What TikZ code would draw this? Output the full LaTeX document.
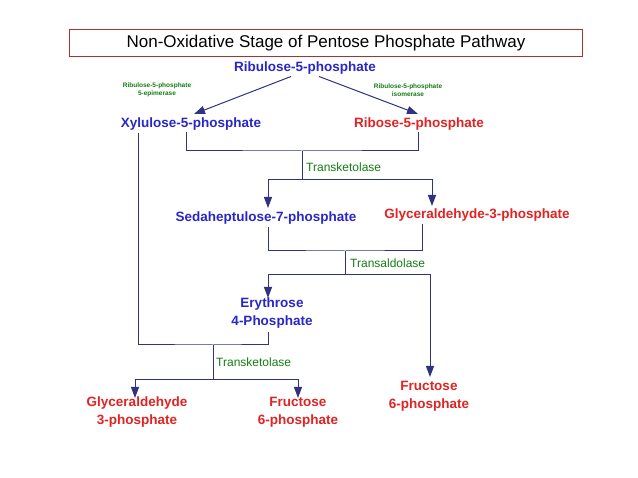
\documentclass[tikz,border=0pt]{standalone}
\usepackage{fontspec}
\setmainfont{Liberation Sans}
\usetikzlibrary{arrows.meta}
\definecolor{mblue}{RGB}{40,40,200}
\definecolor{mred}{RGB}{225,35,35}
\definecolor{mgreen}{RGB}{20,125,20}
\definecolor{mline}{RGB}{50,50,130}
\definecolor{mbox}{RGB}{170,50,50}
\begin{document}
\begin{tikzpicture}[x=1pt,y=-1pt,
  met/.style={font=\fontsize{13.5}{18}\selectfont\bfseries,align=center,inner sep=0pt},
  bl/.style={met,text=mblue}, rd/.style={met,text=mred},
  enz/.style={font=\fontsize{12}{14}\selectfont,text=mgreen,anchor=west,inner sep=0pt},
  smallenz/.style={font=\fontsize{6.5}{8}\selectfont\bfseries,text=mgreen,align=center,inner sep=0pt},
  ln/.style={draw=mline,line width=1pt},
  ar/.style={ln,-{Triangle[length=11pt,width=8pt]}}]
\useasboundingbox (0,0) rectangle (638,478);
\fill[white] (0,0) rectangle (638,478);
\node[draw=mbox,line width=0.8pt,minimum width=513pt,minimum height=27pt,font=\fontsize{17}{19}\selectfont] (title) at (326,43) {Non-Oxidative Stage of Pentose Phosphate Pathway};
\node[bl] (ru5p) at (305,68) {Ribulose-5-phosphate};
\node[smallenz] (e1) at (157,90) {Ribulose-5-phosphate\\5-epimerase};
\node[smallenz] (e2) at (408,90) {Ribulose-5-phosphate\\isomerase};
\node[bl] (xu5p) at (191,124) {Xylulose-5-phosphate};
\node[rd] (r5p) at (419,124) {Ribose-5-phosphate};
\draw[ar] (ru5p.south)+(-14,2) -- (194,114);
\draw[ar] (ru5p.south)+(14,2) -- (418,114);
\coordinate (j1) at (302,151);
\draw[ln] (186,132) |- (j1) -| (418,132);
\draw[ln] (j1) -- (302,180);
\node[enz] (t1) at (306,167) {Transketolase};
\node[bl] (s7p) at (266,218) {Sedaheptulose-7-phosphate};
\node[rd] (g3p) at (477,215) {Glyceraldehyde-3-phosphate};
\draw[ar] (302,180) -| (268,208);
\draw[ar] (302,180) -| (432,206);
\coordinate (j2) at (345,251);
\draw[ln] (268,227) |- (j2) -| (422,224);
\draw[ln] (j2) -- (345,275);
\node[enz] (t2) at (350,263) {Transaldolase};
\node[bl] (e4p) at (272,313) {Erythrose\\4-Phosphate};
\node[rd] (f6pa) at (429,396) {Fructose\\6-phosphate};
\draw[ar] (345,275) -| (268,298);
\draw[ar] (345,275) -| (430,377);
\coordinate (j3) at (213,345);
\draw[ln] (138,133) |- (j3) -| (268,332);
\draw[ln] (j3) -- (213,380);
\node[enz] (t3) at (216,362) {Transketolase};
\node[rd] (g3pb) at (137,412) {Glyceraldehyde\\3-phosphate};
\node[rd] (f6pb) at (298,412) {Fructose\\6-phosphate};
\draw[ar] (213,380) -| (135,398);
\draw[ar] (213,380) -| (298,398);
\end{tikzpicture}
\end{document}
